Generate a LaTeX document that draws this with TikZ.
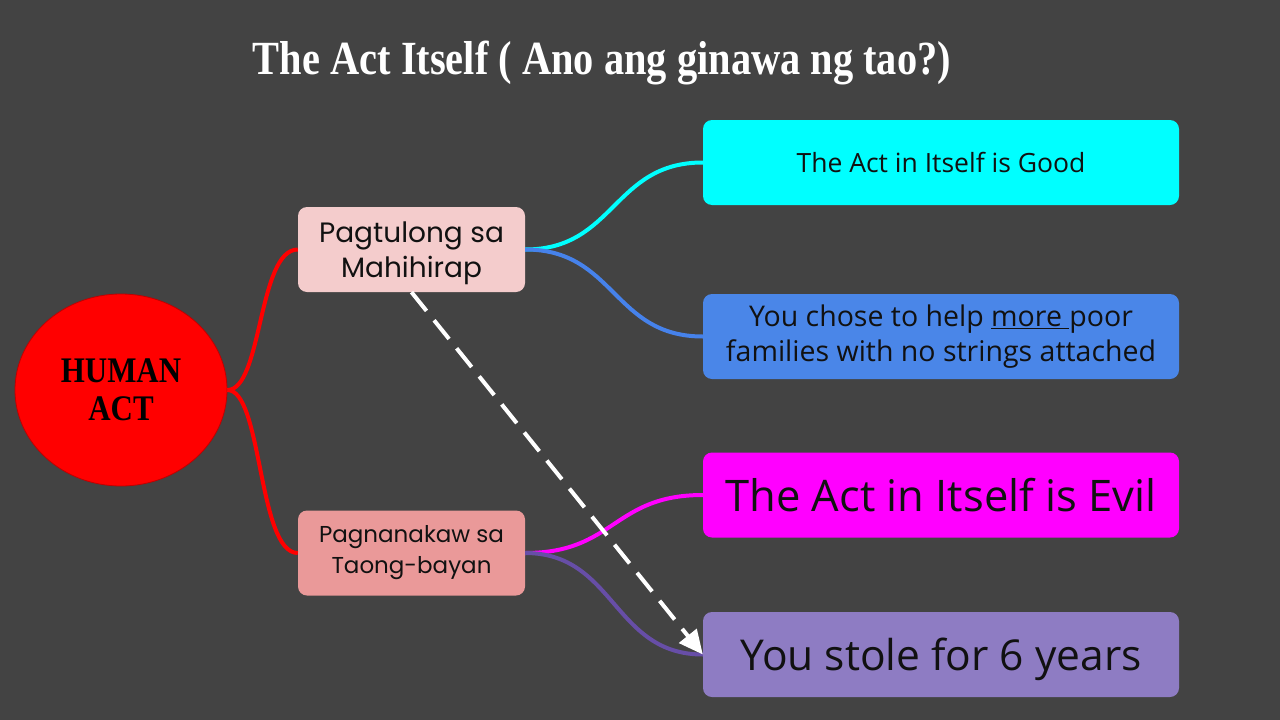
\documentclass[tikz,border=0pt]{standalone}
\usepackage{fontspec}
\setmainfont{Open Sans}
\newfontfamily\titlefont{Liberation Serif}
\newfontfamily\handfont{Poppins}
\usetikzlibrary{arrows.meta,shapes.geometric}
\definecolor{bg}{HTML}{434343}
\definecolor{pinkA}{RGB}{244,204,204}
\definecolor{pinkB}{RGB}{234,153,153}
\definecolor{cyanbox}{RGB}{0,255,255}
\definecolor{bluebox}{RGB}{74,134,232}
\definecolor{magbox}{RGB}{255,0,255}
\definecolor{purbox}{RGB}{142,124,195}
\definecolor{bluelink}{RGB}{70,130,235}
\definecolor{purlink}{RGB}{103,78,167}
\definecolor{txt}{RGB}{17,17,17}
\tikzset{
  leftbox/.style={rectangle, rounded corners=9pt, minimum width=227pt, minimum height=85pt, inner sep=0pt, align=center, text=txt},
  rightbox/.style={rectangle, rounded corners=9pt, minimum width=476pt, minimum height=85pt, inner sep=0pt, align=center, text=txt},
  boxtext/.style={inner sep=0pt, align=center, text=txt},
  link/.style={line width=4pt},
}
\begin{document}
\begin{tikzpicture}[x=1pt,y=-1pt]
\fill[bg] (0,0) rectangle (1280,720);
\useasboundingbox (0,0) rectangle (1280,720);

\node[text=white, inner sep=0pt] (title) at (602,63)
  {\resizebox*{698pt}{44pt}{\titlefont\bfseries The Act Itself ( Ano ang ginawa ng tao?)}};

\node[ellipse, fill=red, draw=red!75!black, line width=0.8pt, minimum width=212pt, minimum height=192pt, inner sep=0pt, align=center,
      font=\titlefont\bfseries\fontsize{36}{38}\selectfont] (ha) at (121,390)
  {\scalebox{0.86}[1]{HUMAN}\\\scalebox{0.86}[1]{ACT}};

\node[leftbox, fill=pinkA] (p1) at (411.5,249.5) {};
\node[boxtext, font=\handfont\fontsize{28}{35}\selectfont] (p1t) at (411.5,253) {Pagtulong sa\\Mahihirap};
\node[leftbox, fill=pinkB, font=\handfont\fontsize{23}{31}\selectfont] (p2) at (411.5,553) {Pagnanakaw sa\\Taong-bayan};

\node[rightbox, fill=cyanbox, font=\fontsize{26.5}{30}\selectfont] (ga) at (941,162.5) {The Act in Itself is Good};
\node[rightbox, fill=bluebox, font=\fontsize{28.5}{35}\selectfont] (gb) at (941,336.5) {You chose to help \underline{more }poor\\families with no strings attached};
\node[rightbox, fill=magbox, font=\fontsize{43.5}{48}\selectfont] (ea) at (941,495) {The Act in Itself is Evil};
\node[rightbox, fill=purbox] (eb) at (941,654.5) {};
\node[boxtext, font=\fontsize{42.5}{48}\selectfont] (ebt) at (941,659.5) {You stole for 6 years};

\draw[link, red] (ha.east) .. controls +(35,0) and +(-40,0) .. (p1.west);
\draw[link, red] (ha.east) .. controls +(35,0) and +(-40,0) .. (p2.west);

\draw[link, cyanbox] (p1.east) .. controls +(90,0) and +(-90,0) .. (ga.west);
\draw[link, bluelink] (p1.east) .. controls +(90,0) and +(-90,0) .. (gb.west);
\draw[link, magbox] (p2.east) .. controls +(90,0) and +(-90,0) .. (ea.west);
\draw[link, purlink] (p2.east) .. controls +(90,0) and +(-90,0) .. (eb.west);

\draw[white, line width=4pt, dash pattern=on 24pt off 12pt, -{Triangle[length=24pt,width=22pt]}] (p1.south) -- (eb.west);
\end{tikzpicture}
\end{document}
